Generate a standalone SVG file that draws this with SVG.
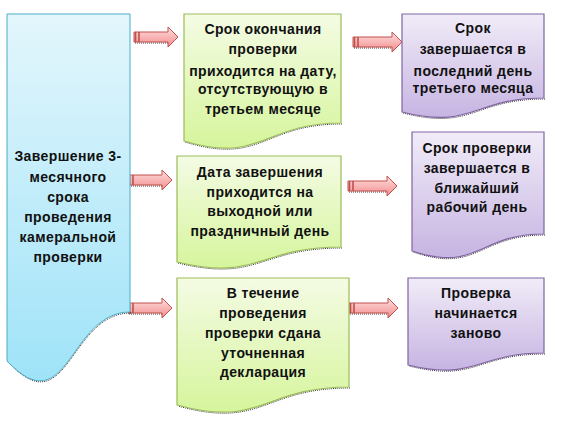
<svg xmlns="http://www.w3.org/2000/svg" width="576" height="431" viewBox="0 0 576 431">
<style>
.t{font-family:"Liberation Sans",Arial,sans-serif;font-weight:bold;font-size:14px;letter-spacing:0.4px;fill:#111;text-anchor:middle}
.blue{fill:url(#gb);stroke:#4bacc6;stroke-width:1}
.green{fill:url(#gg);stroke:#9bbb59;stroke-width:1.2}
.purple{fill:url(#gp);stroke:#8064a2;stroke-width:1.2}
.sh{fill:none;stroke:#000;stroke-width:1;stroke-dasharray:1,1;opacity:0.8}
.arr{fill:url(#ga);stroke:#c0504d;stroke-width:1}
.stripe{stroke:#c0504d;stroke-width:1.6}
</style>
<defs>
<linearGradient id="gb" x1="0" y1="0" x2="0" y2="1"><stop offset="0" stop-color="#e3f6fc"/><stop offset="1" stop-color="#9fe3f8"/></linearGradient>
<linearGradient id="gg" x1="0" y1="0" x2="0" y2="1"><stop offset="0" stop-color="#f4fbe4"/><stop offset="1" stop-color="#d6f59c"/></linearGradient>
<linearGradient id="gp" x1="0" y1="0" x2="0" y2="1"><stop offset="0" stop-color="#f1ecf8"/><stop offset="1" stop-color="#c6b4e2"/></linearGradient>
<linearGradient id="ga" x1="0" y1="0" x2="0" y2="1"><stop offset="0" stop-color="#ffe0e0"/><stop offset="1" stop-color="#f28b8b"/></linearGradient>
<g id="arS">
<line class="sh" x1="1" y1="6" x2="34" y2="6"/>
<path class="arr" d="M0,-5 H34 V-10 L44,0 L34,10 V5 H0 Z"/>
<line class="stripe" x1="1.5" y1="-5" x2="1.5" y2="5"/>
<line class="stripe" x1="5" y1="-5" x2="5" y2="5"/>
</g>
<g id="arL">
<line class="sh" x1="1" y1="6" x2="39" y2="6"/>
<path class="arr" d="M0,-5 H39 V-10 L49,0 L39,10 V5 H0 Z"/>
<line class="stripe" x1="1.5" y1="-5" x2="1.5" y2="5"/>
<line class="stripe" x1="5" y1="-5" x2="5" y2="5"/>
</g>
</defs>
<rect width="576" height="431" fill="#fff"/>

<g id="connectors">
<use href="#arS" transform="translate(134,37)"/>
<use href="#arS" transform="translate(128,180)"/>
<use href="#arS" transform="translate(128,308)"/>
<use href="#arL" transform="translate(353,42)"/>
<use href="#arL" transform="translate(348,186)"/>
<use href="#arL" transform="translate(349,308)"/>
</g>

<g id="main">
<path class="sh" d="M131,313 C68.5,313 68.5,426.5 8,362"/>
<path class="blue" d="M7,14 H130 V312 C68.5,312 68.5,425.5 7,361 Z"/>
<text class="t"><tspan x="68" y="161">Завершение 3-</tspan><tspan x="68" y="182">месячного</tspan><tspan x="68" y="202">срока</tspan><tspan x="68" y="222">проведения</tspan><tspan x="68" y="242">камеральной</tspan><tspan x="68" y="262">проверки</tspan></text>
</g>

<g id="g1">
<path class="sh" d="M342,124 C262.5,124 262.5,165.5 185,142"/>
<path class="green" d="M184,14 H341 V123 C262.5,123 262.5,164.5 184,141 Z"/>
<text class="t"><tspan x="263" y="34">Срок окончания</tspan><tspan x="263" y="54">проверки</tspan><tspan x="263" y="76">приходится на дату,</tspan><tspan x="263" y="94">отсутствующую в</tspan><tspan x="263" y="114">третьем месяце</tspan></text>
</g>

<g id="g2">
<path class="sh" d="M342,248 C259,248 259,282.7 178,263"/>
<path class="green" d="M177,156 H341 V247 C259,247 259,281.7 177,262 Z"/>
<text class="t"><tspan x="260" y="177">Дата завершения</tspan><tspan x="260" y="197">приходится на</tspan><tspan x="260" y="216">выходной или</tspan><tspan x="260" y="236">праздничный день</tspan></text>
</g>

<g id="g3">
<path class="sh" d="M350,388 C263,388 263,429.5 178,406"/>
<path class="green" d="M177,278 H349 V387 C263,387 263,428.5 177,405 Z"/>
<text class="t"><tspan x="263" y="298">В течение</tspan><tspan x="263" y="318">проведения</tspan><tspan x="263" y="338">проверки сдана</tspan><tspan x="263" y="358">уточненная</tspan><tspan x="263" y="377">декларация</tspan></text>
</g>

<g id="p1">
<path class="sh" d="M545,99 C473,99 473,131 403,113"/>
<path class="purple" d="M402,14 H544 V98 C473,98 473,130 402,112 Z"/>
<text class="t"><tspan x="473" y="33">Срок</tspan><tspan x="473" y="54">завершается в</tspan><tspan x="473" y="76">последний день</tspan><tspan x="473" y="93">третьего месяца</tspan></text>
</g>

<g id="p2">
<path class="sh" d="M545,235 C478,235 478,274 413,252"/>
<path class="purple" d="M412,132 H544 V234 C478,234 478,273 412,251 Z"/>
<text class="t"><tspan x="477" y="153">Срок  проверки</tspan><tspan x="477" y="173">завершается в</tspan><tspan x="477" y="193">ближайший</tspan><tspan x="477" y="212">рабочий день</tspan></text>
</g>

<g id="p3">
<path class="sh" d="M545,354 C476,354 476,382.6 409,366"/>
<path class="purple" d="M408,278 H544 V353 C476,353 476,381.6 408,365 Z"/>
<text class="t"><tspan x="476" y="298">Проверка</tspan><tspan x="476" y="318">начинается</tspan><tspan x="476" y="338">заново</tspan></text>
</g>
</svg>
